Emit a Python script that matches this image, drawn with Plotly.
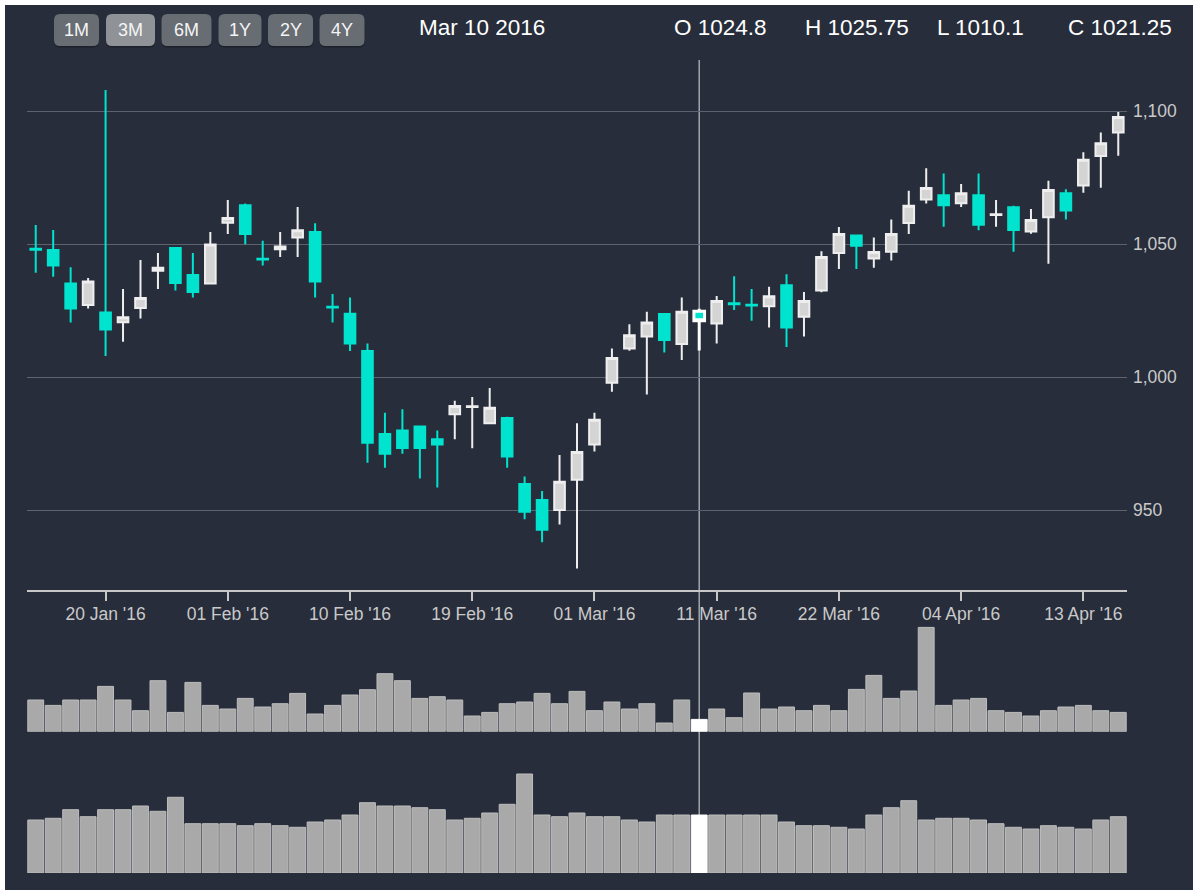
import plotly.graph_objects as go

# ---------------- data ----------------
opens = [1048.3, 1047.9, 1035.3, 1027.2, 1024.4, 1020.7, 1026.1, 1040.1, 1048.6, 1038.5,
         1035.3, 1058.1, 1064.7, 1044.6, 1048.1, 1052.6, 1054.6, 1026.5, 1023.9, 1009.9,
         978.7, 980.0, 981.5, 976.7, 986.1, 988.8, 982.7, 984.7, 959.9, 953.9,
         950.1, 961.5, 974.7, 998.0, 1010.8, 1015.3, 1023.8, 1012.5, 1024.8, 1020.2,
         1027.8, 1027.3, 1026.7, 1034.6, 1022.8, 1032.6, 1046.7, 1053.3, 1044.7, 1047.2,
         1058.0, 1066.8, 1068.4, 1065.4, 1068.4, 1061.0, 1063.9, 1054.8, 1060.2, 1069.2,
         1072.1, 1083.2, 1092.0]
highs = [1057.3, 1055.4, 1041.4, 1037.3, 1108.0, 1033.2, 1044.1, 1046.7, 1048.9, 1046.7,
         1054.6, 1066.7, 1065.3, 1051.3, 1054.6, 1064.0, 1057.9, 1031.3, 1030.0, 1012.7,
         986.7, 988.0, 981.8, 980.0, 991.2, 992.6, 996.0, 985.2, 962.7, 957.3,
         970.8, 982.7, 986.7, 1010.8, 1019.9, 1024.6, 1024.2, 1030.0, 1025.75, 1030.6,
         1038.0, 1033.2, 1034.0, 1038.7, 1032.1, 1047.4, 1056.5, 1053.5, 1052.6, 1059.3,
         1070.1, 1078.6, 1076.6, 1072.7, 1076.6, 1066.7, 1064.5, 1063.3, 1073.9, 1070.7,
         1084.6, 1092.0, 1099.7]
lows = [1039.3, 1037.8, 1020.6, 1025.9, 1008.0, 1013.4, 1022.1, 1033.2, 1032.6, 1030.0,
        1034.9, 1053.9, 1050.0, 1042.0, 1045.2, 1045.2, 1030.0, 1020.6, 1009.9, 967.9,
        966.0, 971.3, 962.0, 958.6, 976.7, 973.3, 982.5, 966.0, 946.6, 938.0,
        944.7, 928.1, 972.1, 994.6, 1010.0, 993.5, 1009.3, 1006.5, 1010.1, 1012.7,
        1025.3, 1021.3, 1018.7, 1011.4, 1015.3, 1032.0, 1040.7, 1040.7, 1041.2, 1043.9,
        1053.9, 1065.3, 1056.6, 1064.0, 1055.3, 1056.6, 1047.2, 1054.0, 1042.7, 1059.3,
        1069.4, 1071.3, 1083.3]
closes = [1048.0, 1042.0, 1025.9, 1036.0, 1018.0, 1022.6, 1029.8, 1041.2, 1035.5, 1032.1,
          1049.9, 1059.9, 1053.9, 1044.3, 1049.2, 1055.3, 1036.0, 1026.2, 1012.7, 975.4,
          971.3, 973.4, 973.4, 974.7, 989.2, 989.1, 988.6, 970.2, 949.5, 942.7,
          960.7, 971.9, 984.0, 1007.3, 1015.8, 1020.6, 1014.0, 1024.6, 1021.25, 1028.7,
          1027.5, 1027.0, 1030.5, 1018.7, 1028.7, 1045.2, 1053.9, 1049.5, 1047.1, 1053.9,
          1064.5, 1071.2, 1064.7, 1069.2, 1057.4, 1061.3, 1055.4, 1059.1, 1070.4, 1062.7,
          1081.8, 1088.0, 1097.9]

volume_top = [31.7, 26.3, 31.7, 31.7, 45.3, 31.7, 21.0, 51.0, 19.3, 49.3,
              26.3, 22.7, 33.3, 24.7, 28.0, 38.3, 17.7, 26.3, 36.7, 42.0,
              58.0, 51.0, 33.3, 35.0, 31.7, 15.7, 19.3, 28.0, 29.7, 38.3,
              28.0, 40.3, 21.0, 29.7, 22.7, 28.0, 8.7, 31.7, 12.3, 22.7,
              14.0, 38.7, 22.7, 24.7, 21.0, 26.3, 21.0, 42.3, 56.3, 33.3,
              40.7, 104.3, 26.3, 31.7, 33.3, 21.0, 19.3, 15.7, 21.0, 24.7,
              26.3, 21.0, 19.3]
volume_bottom = [53.0, 54.7, 63.3, 56.3, 63.3, 63.3, 67.0, 61.7, 75.7, 49.3,
                 49.3, 49.3, 47.3, 49.3, 47.3, 45.7, 51.0, 53.0, 58.0, 70.3,
                 67.0, 67.0, 65.3, 63.3, 53.0, 54.7, 60.0, 68.7, 99.0, 58.0,
                 56.3, 60.0, 56.3, 56.3, 53.0, 51.0, 58.0, 58.0, 58.0, 58.0,
                 58.0, 58.0, 58.0, 51.0, 47.3, 47.3, 45.7, 44.0, 58.0, 65.3,
                 72.3, 53.0, 54.7, 54.7, 53.0, 49.3, 45.7, 44.0, 47.3, 45.7,
                 44.0, 53.0, 56.3]

tick_index = [4, 11, 18, 25, 32, 39, 46, 53, 60]
tick_labels = ["20 Jan '16", "01 Feb '16", "10 Feb '16", "19 Feb '16", "01 Mar '16",
               "11 Mar '16", "22 Mar '16", "04 Apr '16", "13 Apr '16"]
price_ticks = [950, 1000, 1050, 1100]

range_buttons = ["1M", "3M", "6M", "1Y", "2Y", "4Y"]
active_button = "3M"
selected_date = "Mar 10 2016"
selected_ohlc = (1024.8, 1025.75, 1010.1, 1021.25)

# ---------------- derived ----------------
n = len(opens)
idx = list(range(n))
sel = next(i for i in idx if (opens[i], highs[i], lows[i], closes[i]) == selected_ohlc)
rest = [i for i in idx if i != sel]

BG = "#272d3b"
TEAL = "#00e3cf"
GREY_BODY = "#d4d4d4"
GREY_LINE = "#eeeeee"
VOL = "#a9a9a9"
FONT = "Liberation Sans, Arial, sans-serif"
LABEL = "#c9c9c9"

W, H = 1200, 895
L, R, T, B = 27, 73, 60, 22
PW, PH = W - L - R, H - T - B


def X(p):
    return (p - L) / PW


def Y(p):
    return (T + PH - p) / PH


fig = go.Figure()

fig.add_trace(go.Candlestick(
    x=rest,
    open=[opens[i] for i in rest], high=[highs[i] for i in rest],
    low=[lows[i] for i in rest], close=[closes[i] for i in rest],
    increasing=dict(fillcolor=GREY_BODY, line=dict(color=GREY_LINE, width=2)),
    decreasing=dict(fillcolor=TEAL, line=dict(color=TEAL, width=2)),
    whiskerwidth=0, hoverinfo="skip", showlegend=False,
    xaxis="x", yaxis="y"))

fig.add_trace(go.Candlestick(
    x=[sel], open=[opens[sel]], high=[highs[sel]], low=[lows[sel]], close=[closes[sel]],
    increasing=dict(fillcolor=GREY_BODY, line=dict(color="#ffffff", width=3)),
    decreasing=dict(fillcolor=TEAL, line=dict(color="#ffffff", width=3)),
    whiskerwidth=0, hoverinfo="skip", showlegend=False,
    xaxis="x", yaxis="y"))

bar_colors = ["#ffffff" if i == sel else VOL for i in idx]
bar_lines = ["#ffffff" if i == sel else "#bdbdbd" for i in idx]
for vals, xa, ya in [(volume_top, "x2", "y2"), (volume_bottom, "x3", "y3")]:
    fig.add_trace(go.Bar(
        x=idx, y=vals, marker=dict(color=bar_colors, line=dict(color=bar_lines, width=1)),
        hoverinfo="skip", showlegend=False, xaxis=xa, yaxis=ya))

xr = [-0.5, n - 0.5]
vol_h = 112
vol_range = [0, vol_h]

shapes = [
    # dark panel
    dict(type="rect", xref="paper", yref="paper", x0=X(5), x1=X(1193), y0=Y(890), y1=Y(5),
         fillcolor=BG, line=dict(width=0), layer="below"),
    # crosshair
    dict(type="line", xref="x", yref="paper", x0=sel, x1=sel, y0=0, y1=1,
         line=dict(color="rgba(205,205,205,0.75)", width=1.5), layer="below"),
]


def rrect(x0, y0, x1, y1, r):
    return ("M {a},{b} L {c},{b} Q {d},{b} {d},{e} L {d},{f} Q {d},{g} {c},{g} "
            "L {a},{g} Q {h},{g} {h},{f} L {h},{e} Q {h},{b} {a},{b} Z").format(
        a=X(x0 + r), b=Y(y0), c=X(x1 - r), d=X(x1), e=Y(y0 + r), f=Y(y1 - r),
        g=Y(y1), h=X(x0))


btn_x = [(54, 99), (106, 155), (161.5, 211.5), (218.5, 261.5), (268, 313), (319.5, 364.5)]
annotations = []
for (bx0, bx1), label in zip(btn_x, range_buttons):
    shapes.append(dict(type="path", xref="paper", yref="paper",
                       path=rrect(bx0, 15.5, bx1, 47.5, 6),
                       fillcolor="#1b202a", line=dict(width=0), layer="below"))
    shapes.append(dict(type="path", xref="paper", yref="paper",
                       path=rrect(bx0, 14, bx1, 46, 6),
                       fillcolor="#8f9297" if label == active_button else "#686c73",
                       line=dict(width=0), layer="below"))
    annotations.append(dict(x=X((bx0 + bx1) / 2), y=Y(30.5), xref="paper", yref="paper",
                            text=label, showarrow=False, xanchor="center", yanchor="middle",
                            font=dict(family=FONT, size=18, color="#f4f4f4")))

o, h, l, c = selected_ohlc
header = [(417, selected_date), (672, f"O {o:g}"), (803, f"H {h:g}"),
          (935, f"L {l:g}"), (1066, f"C {c:g}")]
for hx, txt in header:
    annotations.append(dict(x=X(hx), y=Y(27.5), xref="paper", yref="paper", text=txt,
                            showarrow=False, xanchor="left", yanchor="middle",
                            font=dict(family=FONT, size=22.5, color="#ffffff")))

price_dom = [Y(590), 1.0]
v1_dom = [Y(731.7), Y(731.7) + vol_h / PH]
v2_dom = [0.0, vol_h / PH]

fig.update_layout(
    width=W, height=H,
    margin=dict(l=L, r=R, t=T, b=B, pad=0),
    paper_bgcolor="#ffffff", plot_bgcolor="rgba(0,0,0,0)",
    font=dict(family=FONT, size=17.5, color=LABEL),
    showlegend=False, hovermode=False,
    boxgap=0.39, boxgroupgap=0, bargap=0.09,
    xaxis=dict(domain=[0, 1], range=xr, anchor="y", rangeslider=dict(visible=False),
               showgrid=False, zeroline=False, showline=True, linecolor="#c8c8c8", linewidth=1.5,
               ticks="outside", ticklen=9, tickwidth=1.5, tickcolor="#c8c8c8",
               tickmode="array", tickvals=tick_index, ticktext=tick_labels,
               ticklabelstandoff=-2,
               tickfont=dict(family=FONT, size=17.5, color=LABEL), fixedrange=True),
    yaxis=dict(domain=price_dom, range=[920.04, 1119.29], side="right", anchor="x",
               showgrid=True, gridcolor="#5d626c", gridwidth=1, zeroline=False, showline=False,
               ticks="", tickmode="array", tickvals=price_ticks, tickformat=",",
               ticklabelstandoff=5,
               tickfont=dict(family=FONT, size=17.5, color=LABEL), fixedrange=True),
    xaxis2=dict(domain=[0, 1], range=xr, anchor="y2", visible=False, matches="x"),
    yaxis2=dict(domain=v1_dom, range=vol_range, anchor="x2", visible=False),
    xaxis3=dict(domain=[0, 1], range=xr, anchor="y3", visible=False, matches="x"),
    yaxis3=dict(domain=v2_dom, range=vol_range, anchor="x3", visible=False),
    shapes=shapes, annotations=annotations,
)

fig.write_html("out.html", config={"displayModeBar": False})
